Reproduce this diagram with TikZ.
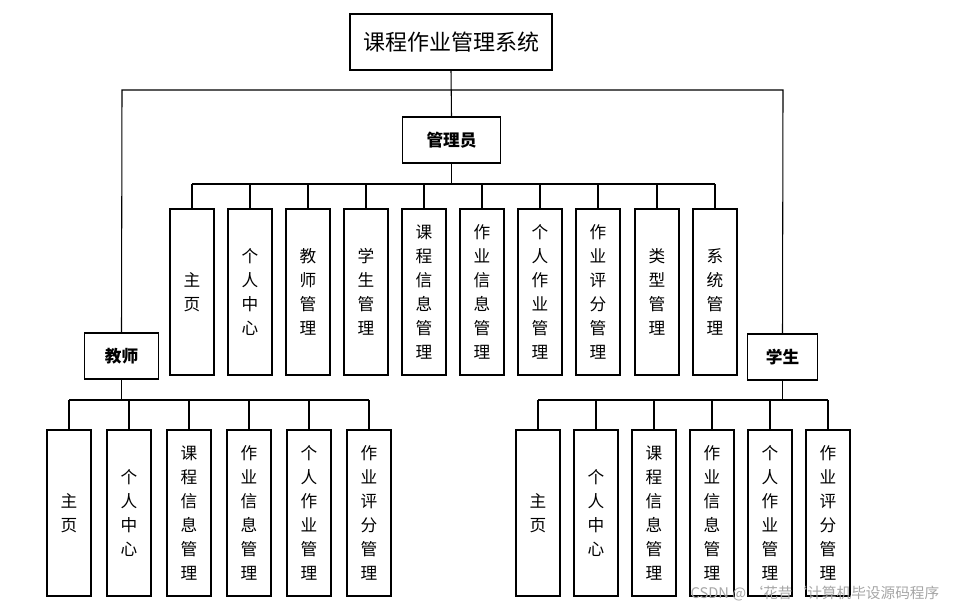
\documentclass[tikz,border=0pt]{standalone}
\usepackage{fontspec}
\setmainfont{Noto Sans CJK SC}
\begin{document}
\begin{tikzpicture}[x=0.75pt,y=-0.75pt,
 box/.style={draw,line width=0.8pt,fill=white,inner sep=0pt,font=\fontsize{12.5}{18}\selectfont,align=center},
 leaf/.style={box,minimum width=33pt,minimum height=124.5pt},
 lin/.style={line width=0.8pt},
 bus/.style={line width=1.3pt}]
\useasboundingbox (0,0) rectangle (959,613);
\node[box,minimum width=151.5pt,minimum height=42pt,font=\fontsize{16.5}{20}\selectfont] (root) at (451,42) {课程作业管理系统};
\node[box,minimum width=74pt,minimum height=34.5pt,font=\bfseries\fontsize{12.5}{15}\selectfont] (adm) at (451.5,140) {管理员};
\node[box,minimum width=55pt,minimum height=34.5pt,font=\bfseries\fontsize{12.5}{15}\selectfont] (tea) at (121.5,356) {教师};
\node[box,minimum width=53pt,minimum height=34.5pt,font=\bfseries\fontsize{12.5}{15}\selectfont] (stu) at (782.5,357) {学生};
\draw[lin] (root.south) -- (adm.north);
\coordinate (ht) at (122,90); \coordinate (hs) at (783,90);
\draw[lin] (tea.north) -- (ht) -- (hs) -- (stu.north);
% admin children
\coordinate (ab) at (451.5,184);
\draw[bus] (adm.south) -- (ab);
\foreach \i/\x/\t in {1/192/主\\页,2/250/个\\人\\中\\心,3/308/教\\师\\管\\理,4/366/学\\生\\管\\理,5/424/课\\程\\信\\息\\管\\理,6/482/作\\业\\信\\息\\管\\理,7/540/个\\人\\作\\业\\管\\理,8/598/作\\业\\评\\分\\管\\理,9/657/类\\型\\管\\理,10/715/系\\统\\管\\理}{
 \node[leaf] (a\i) at (\x,292) {\t};
 \coordinate (ac\i) at (\x,184);
 \draw[lin] (ac\i) -- (a\i.north);}
\draw[lin] (ac1) -- (ac10);
% teacher children
\coordinate (tb) at (121.5,400);
\draw[bus] (tea.south) -- (tb);
\foreach \i/\x/\t in {1/69/主\\页,2/129/个\\人\\中\\心,3/189/课\\程\\信\\息\\管\\理,4/249/作\\业\\信\\息\\管\\理,5/309/个\\人\\作\\业\\管\\理,6/369/作\\业\\评\\分\\管\\理}{
 \node[leaf] (t\i) at (\x,513) {\t};
 \coordinate (tc\i) at (\x,400);
 \draw[lin] (tc\i) -- (t\i.north);}
\draw[bus] (tc1) -- (tc6);
% student children
\coordinate (sb) at (782.5,400);
\draw[bus] (stu.south) -- (sb);
\foreach \i/\x/\t in {1/538/主\\页,2/596/个\\人\\中\\心,3/654/课\\程\\信\\息\\管\\理,4/712/作\\业\\信\\息\\管\\理,5/770/个\\人\\作\\业\\管\\理,6/828/作\\业\\评\\分\\管\\理}{
 \node[leaf] (s\i) at (\x,513) {\t};
 \coordinate (sc\i) at (\x,400);
 \draw[lin] (sc\i) -- (s\i.north);}
\draw[bus] (sc1) -- (sc6);
\node[text=gray!70,font=\fontsize{11}{13}\selectfont,anchor=east] (wm) at (944,594) {CSDN @\,`花昔`计算机毕设源码程序};
\end{tikzpicture}
\end{document}
